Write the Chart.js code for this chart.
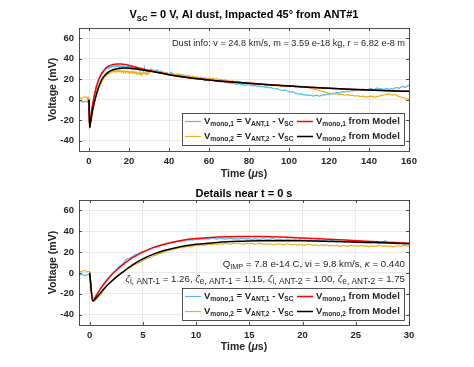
<!DOCTYPE html>
<html>
<head>
<meta charset="utf-8">
<script src="https://cdn.jsdelivr.net/npm/chart.js@4.4.1/dist/chart.umd.min.js"></script>
<style>
  body { margin: 0; background: #fff; }
  #wrap { position: relative; width: 474px; height: 367px; }
  canvas { position: absolute; left: 0; }
  #top { top: 0; }
  #bottom { top: 183px; }
</style>
</head>
<body>
<div id="wrap">
  <canvas id="top" width="474" height="183"></canvas>
  <canvas id="bottom" width="474" height="184"></canvas>
</div>
<script>
// tick labels
const yTicks = [-40, -20, 0, 20, 40, 60];
const xTicksTop = [0, 20, 40, 60, 80, 100, 120, 140, 160];
const xTicksBottom = [0, 5, 10, 15, 20, 25, 30];

// measured signals before the trigger (t = -5 .. -2 us, 1 us step)
const preTime = [-5, -4, -3, -2];
const preMono1 = [-2, -1, -2.5, -1.5];
const preMono2 = [2.5, 1, 2, 3];

// measured signals near t = 0 (t = -1 .. 30 us, 0.25 us step, one row per us)
const fineStart = -1, fineStep = 0.25;
const fineMono1 = [
  -2, -1.5, -2.5, -1.8,
  -1.5, -25, -23, -19.5,
  -15, -12.5, -8, -6,
  -2, 0.5, 3, 6,
  7.5, 10.5, 13.5, 14,
  15.5, 17.5, 18, 19.5,
  20.5, 21, 22.5, 23,
  24.5, 24.5, 26, 26.5,
  27, 28, 28.5, 29,
  29.5, 30.5, 30, 31,
  32, 31.5, 32, 31.5,
  32.5, 32, 33, 32.5,
  33, 32.5, 33.5, 33,
  32.5, 33.5, 33, 32.5,
  33, 33.5, 32.5, 33,
  32.5, 33.5, 33, 32.5,
  33, 32, 33, 32.5,
  32, 33, 32.5, 32,
  32.5, 33, 32, 32.5,
  32, 31.5, 32.5, 32,
  31.5, 32, 31.5, 32,
  31, 31.5, 31, 31.5,
  30.5, 31, 31.5, 30.5,
  31, 30.5, 30, 31,
  30.5, 30, 30.5, 30,
  29.5, 30.5, 29.5, 30,
  29.5, 29, 30, 29.5,
  29, 29.5, 29, 30,
  29, 28.5, 29.5, 31,
  29, 28.5, 29, 28.5,
  28, 29, 28.5, 28,
  28.5
];
const fineMono2 = [
  2, 1, 2.5, 1.5,
  1, -26, -27, -24,
  -21, -17, -14, -11,
  -9, -6.5, -4, -2,
  -0.5, 1.5, 3.5, 5,
  6.5, 8, 9, 10.5,
  12, 13, 14.5, 15,
  16.5, 17, 18.5, 19,
  20, 21, 21.5, 22.5,
  23, 23.5, 24.5, 24,
  25, 25.5, 25, 26,
  26.5, 26, 27, 26.5,
  27, 27.5, 27, 28,
  27.5, 28, 27.5, 28.5,
  28, 27.5, 28.5, 28,
  28.5, 28, 27.5, 28.5,
  28, 28.5, 27.5, 28,
  28.5, 27.5, 28, 27.5,
  28, 27, 27.5, 28,
  27.5, 27, 28, 27.5,
  27, 27.5, 26.5, 27.5,
  27, 26.5, 27.5, 27,
  26.5, 27, 26, 27,
  26.5, 27, 26, 26.5,
  26, 26.5, 25.5, 26.5,
  26, 25.5, 26.5, 26,
  26, 25.5, 26.5, 25.5,
  26, 25, 26, 25.5,
  26, 26.5, 25.5, 26,
  25.5, 26, 25, 26,
  26, 25.5, 26.5, 26,
  26
];

// measured signals later on (t = 31 .. 160 us, 1 us step)
const coarseStart = 31, coarseStep = 1;
const coarseMono1 = [
  30, 29, 28.5, 29, 27.5, 28, 27, 26, 26.5, 25,
  27, 25, 24.5, 25, 24, 23.5, 24.5, 23, 22.5, 23,
  22, 22.5, 21, 21.5, 20.5, 21, 19.5, 18.5, 19, 18.5,
  19.5, 19, 18.5, 19, 18, 17.5, 18, 16.5, 17, 16.5,
  16, 16.5, 15.5, 15, 16, 14.5, 15, 14, 14.5, 15,
  14, 13.5, 14, 13, 13.5, 12.5, 13, 12, 12.5, 11.5,
  12, 11, 10.5, 11, 10, 9.5, 9, 9.5, 8.5, 8,
  7.5, 8, 6.5, 6, 5.5, 6, 5, 4.5, 5, 4,
  4.5, 3.5, 4, 4.5, 3.5, 4, 5, 4.5, 5.5, 5,
  6, 5.5, 6.5, 7, 6.5, 7.5, 8, 7.5, 8.5, 8,
  9, 8.5, 9.5, 9, 10, 9.5, 10.5, 9.5, 10, 10.5,
  11, 10, 10.5, 11.5, 10.5, 11, 10, 10.5, 11, 10,
  11, 10.5, 11.5, 12, 11, 12.5, 13, 12, 13.5, 14
];
const coarseMono2 = [
  28, 27.5, 28, 27, 26.5, 27, 26, 26.5, 25.5, 25,
  25.5, 24.5, 25, 24, 25, 24.5, 23.5, 24, 23, 23.5,
  22.5, 23, 22, 22.5, 21.5, 22, 21, 21.5, 20.5, 21,
  20.5, 21, 20, 20.5, 19.5, 20, 19, 19.5, 18.5, 19,
  18, 18.5, 17.5, 18, 17, 17.5, 16.5, 17, 16, 16.5,
  16, 15.5, 16, 15, 15.5, 14.5, 15, 14, 14.5, 14,
  14.5, 13.5, 14, 13.5, 14, 13, 13.5, 13, 14, 13.5,
  13, 13.5, 12.5, 13, 12.5, 13, 12, 12.5, 12, 11.5,
  11, 10.5, 10, 9.5, 9, 8.5, 8, 7.5, 7, 6.5,
  6, 6.5, 5.5, 6, 5, 5.5, 5, 4.5, 5, 4.5,
  4, 4.5, 3.5, 4, 3.5, 3, 3.5, 3, 2.5, 3,
  3.5, 3, 2.5, 3, 3.5, 4, 4.5, 5, 5.5, 6,
  5, 4.5, 5.5, 4, 3, 2.5, 2, 1.5, 1, 0.5
];

// model curves
const modelTime = [0, 0.3, 0.6, 1, 1.5, 2, 2.5, 3, 4, 5, 6, 7, 8, 9, 10, 12, 14, 16, 18, 20,
  22, 24, 26, 28, 30, 35, 40, 50, 60, 70, 80, 90, 100, 110, 120, 130, 140, 150, 160];
const modelMono1 = [0, -27, -22, -15.5, -8.5, -2.5, 2.5, 7, 14.5, 20, 24.5, 27.5, 30, 31.8, 33, 34.5, 35, 35, 34.5, 33.5,
  32.5, 31.5, 30.5, 29.5, 28.5, 26.5, 24.5, 21.5, 19.3, 17.5, 16, 14.6, 13.3, 12.2, 11.2, 10.3, 9.5, 8.8, 8.2];
const modelMono2 = [0, -27, -24, -19.5, -13.5, -8.5, -4, 0, 7.5, 13.5, 18, 21.5, 24, 26, 27.5, 29.3, 30.3, 30.8, 31, 30.8,
  30.4, 29.9, 29.3, 28.7, 28, 26.3, 24.5, 21.5, 19.3, 17.5, 16, 14.6, 13.3, 12.2, 11.2, 10.3, 9.5, 8.8, 8.2];

const CYAN = '#4DBEEE', ORANGE = '#EDB120', RED = '#FF0000', BLACK = '#000000';
const AXIS = '#262626', GRID = '#e4e4e4';
const FAMILY = '"Liberation Sans", Arial, Helvetica, sans-serif';

function series(t0, dt, vals) {
  return vals.map((v, i) => ({ x: t0 + i * dt, y: v }));
}
function pairs(ts, vals) {
  return ts.map((t, i) => ({ x: t, y: vals[i] }));
}

const mono1Top = pairs(preTime, preMono1).concat(series(fineStart, fineStep, fineMono1), series(coarseStart, coarseStep, coarseMono1));
const mono2Top = pairs(preTime, preMono2).concat(series(fineStart, fineStep, fineMono2), series(coarseStart, coarseStep, coarseMono2));
const mono1Fine = series(fineStart, fineStep, fineMono1);
const mono2Fine = series(fineStart, fineStep, fineMono2);

function makeDatasets(m1, m2) {
  return [
    { data: m1, borderColor: CYAN, borderWidth: 1.2, order: 4 },
    { data: m2, borderColor: ORANGE, borderWidth: 1.2, order: 3 },
    { data: pairs(modelTime, modelMono1), borderColor: RED, borderWidth: 1.5, order: 2, cubicInterpolationMode: 'monotone' },
    { data: pairs(modelTime, modelMono2), borderColor: BLACK, borderWidth: 1.5, order: 1, cubicInterpolationMode: 'monotone' }
  ];
}

// rich text: parts are [text, style] with style '' | 's' (subscript) | 'i' (italic)
function font(size, bold, italic) {
  return (italic ? 'italic ' : '') + (bold ? 'bold ' : '') + size + 'px ' + FAMILY;
}
function richWidth(ctx, parts, size, bold, subScale) {
  let w = 0;
  parts.forEach(p => {
    const sub = p[1] === 's';
    ctx.font = font(sub ? size * subScale : size, bold, p[1] === 'i');
    w += ctx.measureText(p[0]).width;
  });
  return w;
}
function drawRich(ctx, parts, x, y, size, bold, align, subScale) {
  subScale = subScale || 0.7;
  const w = richWidth(ctx, parts, size, bold, subScale);
  let cx = align === 'center' ? x - w / 2 : align === 'right' ? x - w : x;
  ctx.textBaseline = 'middle';
  ctx.textAlign = 'left';
  parts.forEach(p => {
    const sub = p[1] === 's';
    ctx.font = font(sub ? size * subScale : size, bold, p[1] === 'i');
    ctx.fillText(p[0], cx, sub ? y + size * 0.32 : y);
    cx += ctx.measureText(p[0]).width;
  });
}

const legendEntries = [
  { color: CYAN, col: 0, row: 0, parts: [['V', ''], ['mono,1', 's'], [' = V', ''], ['ANT,1', 's'], [' - V', ''], ['SC', 's']] },
  { color: ORANGE, col: 0, row: 1, parts: [['V', ''], ['mono,2', 's'], [' = V', ''], ['ANT,2', 's'], [' - V', ''], ['SC', 's']] },
  { color: RED, col: 1, row: 0, parts: [['V', ''], ['mono,1', 's'], [' from Model', '']] },
  { color: BLACK, col: 1, row: 1, parts: [['V', ''], ['mono,2', 's'], [' from Model', '']] }
];

function decorations(spec) {
  return {
    id: 'deco',
    afterDatasetsDraw(chart) {
      const ctx = chart.ctx;
      const a = chart.chartArea;
      const xs = chart.scales.x, ys = chart.scales.y;
      ctx.save();
      // inward tick marks and box
      ctx.strokeStyle = AXIS;
      ctx.lineWidth = 0.8;
      ctx.beginPath();
      xs.ticks.forEach(t => {
        const px = Math.round(xs.getPixelForValue(t.value)) + 0.5;
        ctx.moveTo(px, a.bottom); ctx.lineTo(px, a.bottom - 3);
        ctx.moveTo(px, a.top); ctx.lineTo(px, a.top + 3);
      });
      ys.ticks.forEach(t => {
        const py = Math.round(ys.getPixelForValue(t.value)) + 0.5;
        ctx.moveTo(a.left, py); ctx.lineTo(a.left + 3, py);
        ctx.moveTo(a.right, py); ctx.lineTo(a.right - 3, py);
      });
      ctx.stroke();
      ctx.strokeRect(Math.round(a.left) + 0.5, Math.round(a.top) + 0.5, Math.round(a.width), Math.round(a.height));

      ctx.fillStyle = AXIS;
      // annotation texts
      spec.texts.forEach(t => drawRich(ctx, t.parts, a.right - 4, t.y, t.size, false, 'right', t.sub));

      // legend
      const lb = { x: a.right - 227, y: a.bottom - spec.legendGap - 32, w: 222, h: 32 };
      ctx.fillStyle = '#ffffff';
      ctx.fillRect(lb.x, lb.y, lb.w, lb.h);
      ctx.strokeStyle = AXIS;
      ctx.lineWidth = 0.8;
      ctx.strokeRect(Math.round(lb.x) + 0.5, Math.round(lb.y) + 0.5, lb.w, lb.h);
      legendEntries.forEach(e => {
        const ly = lb.y + 8.5 + e.row * 15;
        const lx = lb.x + 3 + e.col * 112;
        ctx.strokeStyle = e.color;
        ctx.lineWidth = e.col === 0 ? 1.2 : 1.5;
        ctx.beginPath();
        ctx.moveTo(lx, ly); ctx.lineTo(lx + 16, ly);
        ctx.stroke();
        ctx.fillStyle = AXIS;
        drawRich(ctx, e.parts, lx + 19, ly, 9.5, true, 'left');
      });

      // titles
      ctx.fillStyle = BLACK;
      const cx = (a.left + a.right) / 2;
      drawRich(ctx, spec.title, cx, spec.titleY, 11, true, 'center');
      ctx.fillStyle = AXIS;
      drawRich(ctx, [['Time (', ''], ['\u03bc', 'i'], ['s)', '']], cx, spec.xTitleY, 10.5, true, 'center');
      ctx.translate(53, (a.top + a.bottom) / 2);
      ctx.rotate(-Math.PI / 2);
      drawRich(ctx, [['Voltage (mV)', '']], 0, 0, 10.5, true, 'center');
      ctx.restore();
    }
  };
}

function makeChart(id, xMin, xMax, xTicks, datasets, padTop, xHeight, spec) {
  const tickFont = { family: FAMILY, size: 9.5, weight: 'bold' };
  return new Chart(document.getElementById(id), {
    type: 'line',
    data: { datasets: datasets },
    options: {
      responsive: false,
      animation: false,
      events: [],
      layout: { padding: { top: padTop, right: 65, left: 0, bottom: 0 } },
      plugins: { legend: { display: false }, tooltip: { enabled: false }, title: { display: false } },
      elements: { point: { radius: 0 }, line: { tension: 0 } },
      scales: {
        x: {
          type: 'linear', min: xMin, max: xMax,
          afterBuildTicks: s => { s.ticks = xTicks.map(v => ({ value: v })); },
          afterFit: s => { s.height = xHeight; },
          grid: { color: GRID, drawTicks: false, lineWidth: 0.8 },
          border: { display: false },
          ticks: { padding: 5, color: AXIS, font: tickFont, maxRotation: 0, autoSkip: false }
        },
        y: {
          type: 'linear', min: -50, max: 70,
          afterBuildTicks: s => { s.ticks = yTicks.map(v => ({ value: v })); },
          afterFit: s => { s.width = 79; },
          grid: { color: GRID, drawTicks: false, lineWidth: 0.8 },
          border: { display: false },
          ticks: { padding: 5, color: AXIS, font: tickFont, autoSkip: false }
        }
      }
    },
    plugins: [decorations(spec)]
  });
}

makeChart('top', -5, 160, xTicksTop, makeDatasets(mono1Top, mono2Top), 28, 32, {
  title: [['V', ''], ['SC', 's'], [' = 0 V, Al dust, Impacted 45\u00b0 from ANT#1', '']],
  titleY: 15,
  xTitleY: 174,
  legendGap: 6,
  texts: [
    { y: 43, size: 9.2, parts: [['Dust info: v = 24.8 km/s, m = 3.59 e-18 kg, r = 6.82 e-8 m', '']] }
  ]
});

makeChart('bottom', -1, 30, xTicksBottom, makeDatasets(mono1Fine, mono2Fine), 17, 42, {
  title: [['Details near t = 0 s', '']],
  titleY: 11,
  xTitleY: 164,
  legendGap: 5,
  texts: [
    { y: 81, size: 9.7, sub: 0.75, parts: [['Q', ''], ['IMP', 's'], [' = 7.8 e-14 C, vi = 9.8 km/s, ', ''], ['\u03ba', 'i'], [' = 0.440', '']] },
    { y: 96, size: 9.7, sub: 0.86, parts: [
      ['\u03b6', 'i'], ['i, ANT-1', 's'], [' = 1.26, ', ''],
      ['\u03b6', 'i'], ['e, ANT-1', 's'], [' = 1.15, ', ''],
      ['\u03b6', 'i'], ['i, ANT-2', 's'], [' = 1.00, ', ''],
      ['\u03b6', 'i'], ['e, ANT-2', 's'], [' = 1.75', '']
    ] }
  ]
});
</script>
</body>
</html>
